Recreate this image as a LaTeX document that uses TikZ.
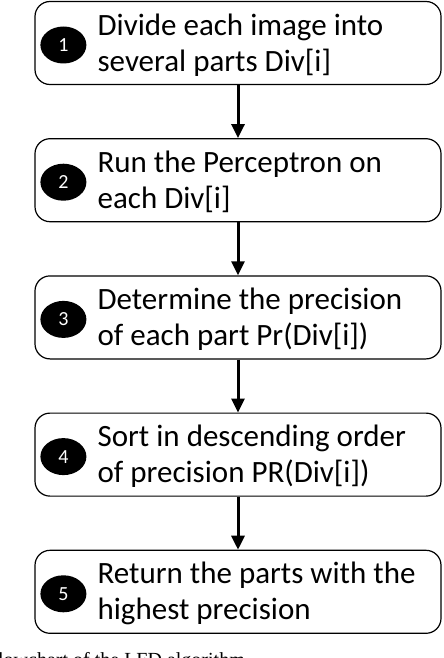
\documentclass[tikz,border=0pt]{standalone}
\usepackage{fontspec}
\setmainfont{Carlito}
\newfontfamily\capfont{Liberation Serif}
\usetikzlibrary{positioning,arrows.meta,shapes.geometric}

\tikzset{
  stepbox/.style={draw, rounded corners=15pt, line width=1.2pt,
                  minimum width=406pt, minimum height=83pt},
  numdot/.style={ellipse, fill=black, text=white, inner sep=0pt,
                 minimum width=46pt, minimum height=37pt,
                 font=\fontsize{20}{20}\selectfont},
  steptext/.style={align=left, inner sep=0pt,
                   font=\fontsize{31}{36}\selectfont},
  flow/.style={line width=3pt, -{Triangle[length=14pt,width=13pt]}}
}

\begin{document}
\begin{tikzpicture}[x=1pt, y=-1pt, node distance=53pt]
                    \useasboundingbox (0,0) rectangle (444,658);
                    \clip (0,0) rectangle (444,658);
                    % boxes
                    \node[stepbox] (s1) at (238,43) {};
                    \node[stepbox, below=of s1] (s2) {};
                    \node[stepbox, below=of s2] (s3) {};
                    \node[stepbox, below=of s3] (s4) {};
                    \node[stepbox, below=of s4] (s5) {};
                    % numbers
                    \node[numdot] (n1) at ([xshift=29pt,yshift=-2pt]s1.west) {1};
                    \node[numdot] (n2) at ([xshift=29pt,yshift=-2pt]s2.west) {2};
                    \node[numdot] (n3) at ([xshift=29pt,yshift=-2pt]s3.west) {3};
                    \node[numdot] (n4) at ([xshift=29pt,yshift=-2pt]s4.west) {4};
                    \node[numdot] (n5) at ([xshift=29pt,yshift=-2pt]s5.west) {5};
                    % texts
                    \node[steptext, anchor=west] (t1) at ([xshift=63pt,yshift=-2pt]s1.west) {Divide each image into\\several parts Div[i]};
                    \node[steptext, anchor=west] (t2) at ([xshift=63pt,yshift=-2pt]s2.west) {Run the Perceptron on\\each Div[i]};
                    \node[steptext, anchor=west] (t3) at ([xshift=63pt,yshift=-2pt]s3.west) {Determine the precision\\of each part Pr(Div[i])};
                    \node[steptext, anchor=west] (t4) at ([xshift=63pt,yshift=-2pt]s4.west) {Sort in descending order\\of precision PR(Div[i])};
                    \node[steptext, anchor=west] (t5) at ([xshift=63pt,yshift=-2pt]s5.west) {Return the parts with the\\highest precision};
                    % arrows
                    \draw[flow] (s1) -- (s2);
                    \draw[flow] (s2) -- (s3);
                    \draw[flow] (s3) -- (s4);
                    \draw[flow] (s4) -- (s5);
                    % caption, cut off by the page
                    \node[anchor=base east, inner sep=0pt, font=\capfont\fontsize{20}{20}\selectfont] (cap) at (245,666) {Flowchart of the LFD algorithm};
                \end{tikzpicture}
\end{document}
